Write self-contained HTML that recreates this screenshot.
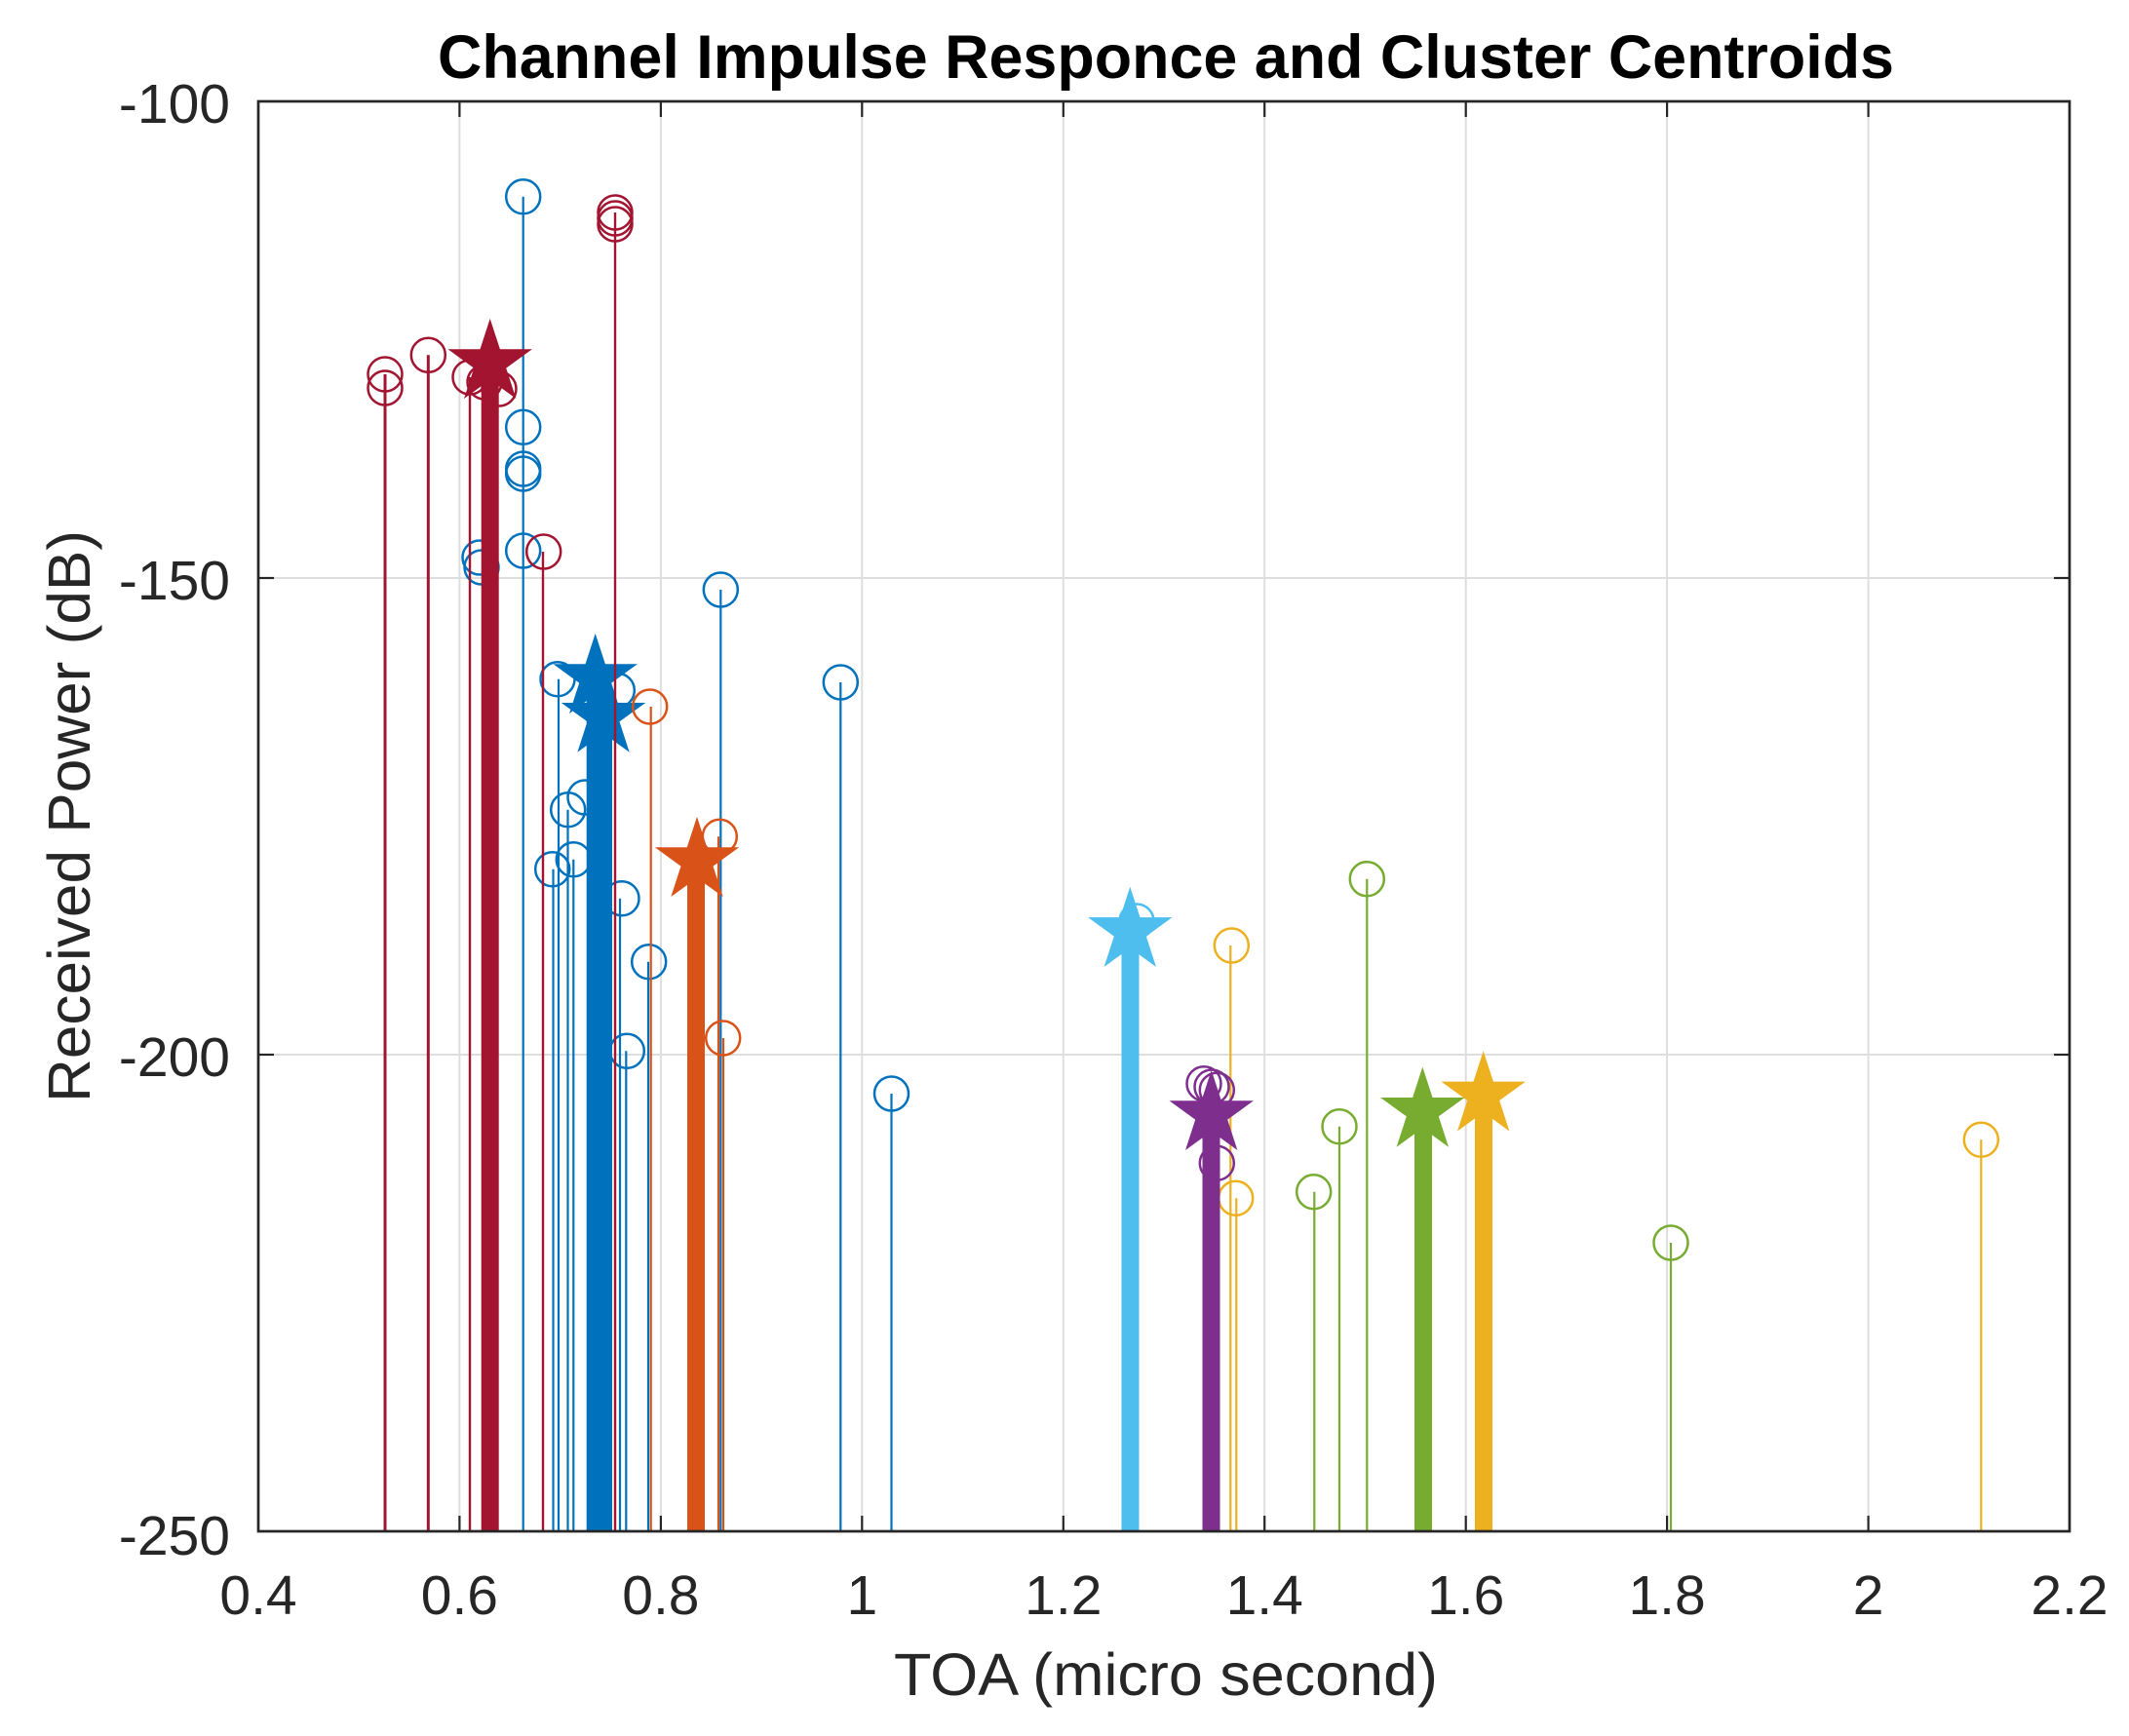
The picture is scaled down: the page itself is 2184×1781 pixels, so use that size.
<!DOCTYPE html>
<html>
<head>
<meta charset="utf-8">
<style>
  html,body{margin:0;padding:0;background:#ffffff;}
  svg{display:block;}
  text{font-family:"Liberation Sans", Arial, sans-serif;fill:#262626;}
</style>
</head>
<body>
<svg width="2184" height="1781" viewBox="0 0 2184 1781" xmlns="http://www.w3.org/2000/svg">
  <defs>
    <polygon id="star" points="0,-43 9.66,-13.29 40.9,-13.29 15.63,5.08 25.27,34.79 0,16.43 -25.27,34.79 -15.63,5.08 -40.9,-13.29 -9.66,-13.29"/>
  </defs>
  <rect x="0" y="0" width="2184" height="1781" fill="#ffffff"/>

  <!-- grid -->
  <g stroke="#dedede" stroke-width="2">
    <line x1="471.4" y1="104" x2="471.4" y2="1571"/>
    <line x1="677.9" y1="104" x2="677.9" y2="1571"/>
    <line x1="884.3" y1="104" x2="884.3" y2="1571"/>
    <line x1="1090.8" y1="104" x2="1090.8" y2="1571"/>
    <line x1="1297.2" y1="104" x2="1297.2" y2="1571"/>
    <line x1="1503.7" y1="104" x2="1503.7" y2="1571"/>
    <line x1="1710.1" y1="104" x2="1710.1" y2="1571"/>
    <line x1="1916.6" y1="104" x2="1916.6" y2="1571"/>
    <line x1="265" y1="593" x2="2123" y2="593"/>
    <line x1="265" y1="1082" x2="2123" y2="1082"/>
  </g>

  <!-- BLUE cluster -->
  <g stroke="#0072BD" fill="none" stroke-width="2.2">
    <line x1="536.7" y1="201.7" x2="536.7" y2="1571"/>
    <line x1="573" y1="696.7" x2="573" y2="1571"/>
    <line x1="582.5" y1="830.7" x2="582.5" y2="1571"/>
    <line x1="567.5" y1="891.7" x2="567.5" y2="1571"/>
    <line x1="588.3" y1="881.7" x2="588.3" y2="1571"/>
    <line x1="636" y1="921.7" x2="636" y2="1571"/>
    <line x1="665" y1="986.7" x2="665" y2="1571"/>
    <line x1="642.3" y1="1078.3" x2="642.3" y2="1571"/>
    <line x1="739.3" y1="605" x2="739.3" y2="1571"/>
    <line x1="862.3" y1="700" x2="862.3" y2="1571"/>
    <line x1="914.5" y1="1122" x2="914.5" y2="1571"/>
  </g>
  <g stroke="#0072BD" fill="none" stroke-width="2.5">
    <circle cx="536.7" cy="201.7" r="17.5"/>
    <circle cx="536.7" cy="438.3" r="17.5"/>
    <circle cx="536.7" cy="481" r="17.5"/>
    <circle cx="536.7" cy="486" r="17.5"/>
    <circle cx="536.7" cy="565" r="17.5"/>
    <circle cx="492" cy="572" r="17.5"/>
    <circle cx="494" cy="582" r="17.5"/>
    <circle cx="739.3" cy="605" r="17.5"/>
    <circle cx="572" cy="696.7" r="17.5"/>
    <circle cx="633.3" cy="708.3" r="17.5"/>
    <circle cx="600" cy="818" r="17.5"/>
    <circle cx="582.7" cy="830.7" r="17.5"/>
    <circle cx="566.7" cy="891.7" r="17.5"/>
    <circle cx="588.3" cy="881.7" r="17.5"/>
    <circle cx="638" cy="921.7" r="17.5"/>
    <circle cx="665.7" cy="986.7" r="17.5"/>
    <circle cx="643.3" cy="1078.3" r="17.5"/>
    <circle cx="862.3" cy="700" r="17.5"/>
    <circle cx="914.5" cy="1122" r="17.5"/>
  </g>
  <g fill="#0072BD" stroke="#0072BD">
    <rect x="601.7" y="695.3" width="18" height="875.7" stroke="none"/>
    <rect x="610" y="735" width="18" height="836" stroke="none"/>
    <use href="#star" transform="translate(610.7,695.3)" stroke-width="1.5"/>
    <use href="#star" transform="translate(619,735)" stroke-width="1.5"/>
  </g>

  <!-- ORANGE cluster -->
  <g stroke="#D95319" fill="none" stroke-width="2.2">
    <line x1="667.7" y1="725" x2="667.7" y2="1571"/>
    <line x1="737" y1="858.3" x2="737" y2="1571"/>
    <line x1="742" y1="1065" x2="742" y2="1571"/>
  </g>
  <g stroke="#D95319" fill="none" stroke-width="2.5">
    <circle cx="666.7" cy="725" r="17.5"/>
    <circle cx="738.3" cy="858.3" r="17.5"/>
    <circle cx="741.7" cy="1065" r="17.5"/>
  </g>
  <g fill="#D95319" stroke="#D95319">
    <rect x="705" y="883.3" width="18" height="687.7" stroke="none"/>
    <use href="#star" transform="translate(715,883.3)" stroke-width="1.5"/>
  </g>

  <!-- YELLOW cluster -->
  <g stroke="#EDB120" fill="none" stroke-width="2.2">
    <line x1="1262.3" y1="970" x2="1262.3" y2="1571"/>
    <line x1="1268.3" y1="1229.3" x2="1268.3" y2="1571"/>
    <line x1="2032.3" y1="1169.3" x2="2032.3" y2="1571"/>
  </g>
  <g stroke="#EDB120" fill="none" stroke-width="2.5">
    <circle cx="1263.3" cy="970" r="17.5"/>
    <circle cx="1267.7" cy="1229.3" r="17.5"/>
    <circle cx="2032.3" cy="1169.3" r="17.5"/>
  </g>
  <g fill="#EDB120" stroke="#EDB120">
    <rect x="1513" y="1123.7" width="18" height="447.3" stroke="none"/>
    <use href="#star" transform="translate(1521.7,1123.7)" stroke-width="1.5"/>
  </g>

  <!-- PURPLE cluster -->
  <g stroke="#7E2F8E" fill="none" stroke-width="2.5">
    <circle cx="1235" cy="1111.7" r="17.5"/>
    <circle cx="1248.3" cy="1118.3" r="17.5"/>
    <circle cx="1243" cy="1115" r="17.5"/>
    <circle cx="1248.3" cy="1193.3" r="17.5"/>
  </g>
  <g fill="#7E2F8E" stroke="#7E2F8E">
    <rect x="1233.5" y="1143.3" width="18" height="427.7" stroke="none"/>
    <use href="#star" transform="translate(1242.7,1143.3)" stroke-width="1.5"/>
  </g>

  <!-- GREEN cluster -->
  <g stroke="#77AC30" fill="none" stroke-width="2.2">
    <line x1="1348.3" y1="1222.7" x2="1348.3" y2="1571"/>
    <line x1="1374" y1="1155.7" x2="1374" y2="1571"/>
    <line x1="1402.3" y1="901.7" x2="1402.3" y2="1571"/>
    <line x1="1714" y1="1275" x2="1714" y2="1571"/>
  </g>
  <g stroke="#77AC30" fill="none" stroke-width="2.5">
    <circle cx="1347.7" cy="1222.7" r="17.5"/>
    <circle cx="1374" cy="1155.7" r="17.5"/>
    <circle cx="1402.3" cy="901.7" r="17.5"/>
    <circle cx="1714" cy="1275" r="17.5"/>
  </g>
  <g fill="#77AC30" stroke="#77AC30">
    <rect x="1451" y="1140" width="18" height="431" stroke="none"/>
    <use href="#star" transform="translate(1459.3,1140)" stroke-width="1.5"/>
  </g>

  <!-- CYAN cluster -->
  <g stroke="#4DBEEE" fill="none" stroke-width="2.5">
    <circle cx="1166" cy="945" r="17.5"/>
  </g>
  <g fill="#4DBEEE" stroke="#4DBEEE">
    <rect x="1150.5" y="955.2" width="18" height="615.8" stroke="none"/>
    <use href="#star" transform="translate(1159.3,955.2)" stroke-width="1.5"/>
  </g>

  <!-- RED cluster -->
  <g stroke="#A2142F" fill="none" stroke-width="3">
    <line x1="395" y1="384" x2="395" y2="1571"/>
    <line x1="439.3" y1="364.3" x2="439.3" y2="1571"/>
  </g>
  <g stroke="#A2142F" fill="none" stroke-width="2.4">
    <line x1="482" y1="387" x2="482" y2="1571"/>
    <line x1="631" y1="218" x2="631" y2="1571"/>
    <line x1="557" y1="566" x2="557" y2="1571"/>
  </g>
  <g stroke="#A2142F" fill="none" stroke-width="2.5">
    <circle cx="395" cy="384" r="17.5"/>
    <circle cx="395" cy="398" r="17.5"/>
    <circle cx="439.3" cy="364.3" r="17.5"/>
    <circle cx="482" cy="387" r="17.5"/>
    <circle cx="497" cy="392" r="17.5"/>
    <circle cx="512" cy="399" r="17.5"/>
    <circle cx="631" cy="218" r="17.5"/>
    <circle cx="631" cy="224" r="17.5"/>
    <circle cx="631" cy="230" r="17.5"/>
    <circle cx="557.7" cy="566" r="17.5"/>
  </g>
  <g fill="#A2142F" stroke="#A2142F">
    <rect x="493.7" y="372.3" width="18" height="1198.7" stroke="none"/>
    <use href="#star" transform="translate(502.7,372.3)" stroke-width="1.5"/>
  </g>

  <!-- axes box -->
  <rect x="265" y="104" width="1858" height="1467" fill="none" stroke="#262626" stroke-width="2.7"/>

  <!-- ticks -->
  <g stroke="#262626" stroke-width="2.2">
    <line x1="471.4" y1="1571" x2="471.4" y2="1555"/>
    <line x1="677.9" y1="1571" x2="677.9" y2="1555"/>
    <line x1="884.3" y1="1571" x2="884.3" y2="1555"/>
    <line x1="1090.8" y1="1571" x2="1090.8" y2="1555"/>
    <line x1="1297.2" y1="1571" x2="1297.2" y2="1555"/>
    <line x1="1503.7" y1="1571" x2="1503.7" y2="1555"/>
    <line x1="1710.1" y1="1571" x2="1710.1" y2="1555"/>
    <line x1="1916.6" y1="1571" x2="1916.6" y2="1555"/>
    <line x1="471.4" y1="104" x2="471.4" y2="120"/>
    <line x1="677.9" y1="104" x2="677.9" y2="120"/>
    <line x1="884.3" y1="104" x2="884.3" y2="120"/>
    <line x1="1090.8" y1="104" x2="1090.8" y2="120"/>
    <line x1="1297.2" y1="104" x2="1297.2" y2="120"/>
    <line x1="1503.7" y1="104" x2="1503.7" y2="120"/>
    <line x1="1710.1" y1="104" x2="1710.1" y2="120"/>
    <line x1="1916.6" y1="104" x2="1916.6" y2="120"/>
    <line x1="265" y1="593" x2="281" y2="593"/>
    <line x1="265" y1="1082" x2="281" y2="1082"/>
    <line x1="2123" y1="593" x2="2107" y2="593"/>
    <line x1="2123" y1="1082" x2="2107" y2="1082"/>
  </g>

  <!-- tick labels -->
  <g font-size="57" text-anchor="middle">
    <text x="265" y="1656">0.4</text>
    <text x="471.4" y="1656">0.6</text>
    <text x="677.9" y="1656">0.8</text>
    <text x="884.3" y="1656">1</text>
    <text x="1090.8" y="1656">1.2</text>
    <text x="1297.2" y="1656">1.4</text>
    <text x="1503.7" y="1656">1.6</text>
    <text x="1710.1" y="1656">1.8</text>
    <text x="1916.6" y="1656">2</text>
    <text x="2123" y="1656">2.2</text>
  </g>
  <g font-size="57" text-anchor="end">
    <text x="236" y="126">-100</text>
    <text x="236" y="615">-150</text>
    <text x="236" y="1104">-200</text>
    <text x="236" y="1595">-250</text>
  </g>

  <!-- axis labels -->
  <text x="1196" y="1739" font-size="61" text-anchor="middle" textLength="558" lengthAdjust="spacingAndGlyphs">TOA (micro second)</text>
  <text transform="translate(92,837.5) rotate(-90)" x="0" y="0" font-size="61" text-anchor="middle" textLength="587" lengthAdjust="spacingAndGlyphs">Received Power (dB)</text>

  <!-- title -->
  <text x="1196" y="80" font-size="63" font-weight="bold" text-anchor="middle" fill="#000000" style="fill:#000" textLength="1494" lengthAdjust="spacingAndGlyphs">Channel Impulse Responce and Cluster Centroids</text>
</svg>
</body>
</html>
